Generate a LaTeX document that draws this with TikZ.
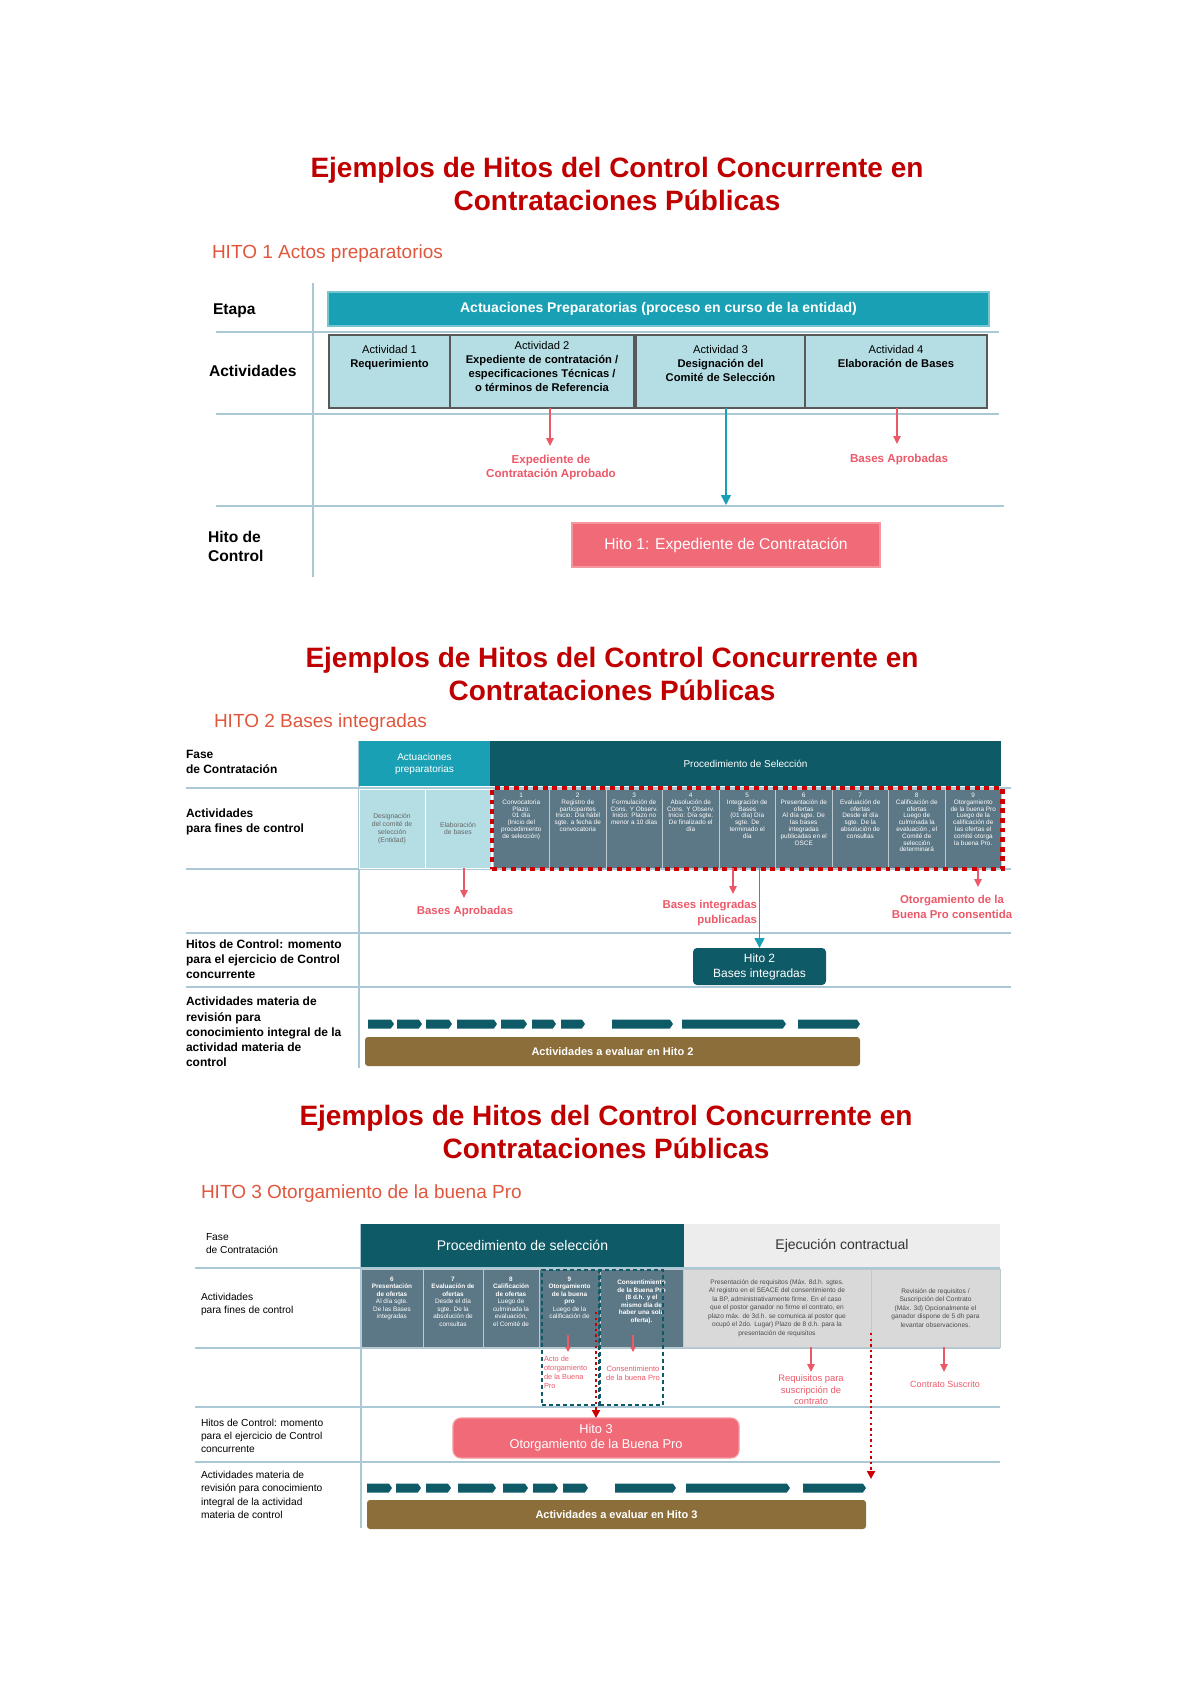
\documentclass[tikz,border=0pt]{standalone}
\usepackage{fontspec}
\setmainfont{Liberation Sans}
\usetikzlibrary{positioning, fit, arrows.meta, shapes.symbols}
\definecolor{titlered}{RGB}{192,0,0}
\definecolor{hitoorange}{RGB}{224,86,60}
\definecolor{tealcol}{RGB}{26,160,180}
\definecolor{darkteal}{RGB}{14,90,102}
\definecolor{cyanbox}{RGB}{180,222,228}
\definecolor{slatecol}{RGB}{92,119,133}
\definecolor{sepcol}{RGB}{170,200,214}
\definecolor{pinkcol}{RGB}{240,106,120}
\definecolor{redcol}{RGB}{236,88,104}
\definecolor{browncol}{RGB}{140,110,58}
\definecolor{grayhead}{RGB}{237,237,237}
\definecolor{graycol}{RGB}{217,217,217}
\definecolor{dotred}{RGB}{204,0,0}
\newcommand{\fsz}[2]{\fontsize{#1}{#2}\selectfont}
\tikzset{
  maintitle/.style={font=\bfseries\fsz{14pt}{16.5pt}, text=titlered, align=center, inner sep=0pt},
  hitolbl/.style={font=\fsz{9.5pt}{11pt}, text=hitoorange, anchor=west, inner sep=0pt},
  rowlbl/.style={font=\bfseries\fsz{7.8pt}{9.5pt}, anchor=west, align=left, inner sep=0pt},
  smlbl/.style={font=\bfseries\fsz{6pt}{7.6pt}, anchor=west, align=left, inner sep=0pt},
  tinylbl/.style={font=\fsz{5.1pt}{6.5pt}, anchor=west, align=left, inner sep=0pt},
  hsep/.style={draw=sepcol, line width=1.3pt},
  tealbar/.style={fill=tealcol, draw=tealcol!60!white, line width=0.6pt, minimum width=330.5pt,
                  minimum height=17pt, inner sep=0pt, text=white, font=\bfseries\fsz{7pt}{8pt}},
  actbox/.style={draw=black!65, fill=cyanbox, line width=0.7pt, minimum height=36.5pt, inner sep=0pt},
  acttxt/.style={font=\fsz{5.6pt}{7pt}, align=center, inner sep=0pt, anchor=north},
  headbox/.style={minimum height=22.5pt, inner sep=0pt, text=white, font=\fsz{5pt}{6pt}, align=center},
  headbox3/.style={minimum height=21.5pt, inner sep=0pt, font=\fsz{7pt}{8pt}, align=center},
  lightcell/.style={fill=cyanbox, draw=white, line width=0.5pt, minimum width=33pt, minimum height=39.5pt,
                    inner sep=0pt, text=black!60, font=\fsz{3.4pt}{3.9pt}, align=center},
  slatecell/.style={fill=slatecol, draw=white!60!slatecol, line width=0.5pt, inner sep=0pt},
  slatetxt/.style={text=white, font=\fsz{3.2pt}{3.4pt}, align=center, inner sep=0pt},
  graycell/.style={fill=graycol, draw=white!60!slatecol, line width=0.5pt, minimum height=39pt, inner sep=0pt,
                   text=black!70, font=\fsz{3.3pt}{4.25pt}, align=center},
  reddots/.style={draw=dotred, line width=2.2pt, dash pattern=on 2.4pt off 2.4pt, inner sep=0.5pt},
  tealdash/.style={draw=darkteal, line width=0.6pt, dash pattern=on 2pt off 1.5pt, inner sep=0pt},
  redarr/.style={-{Triangle[length=4pt, width=3.6pt]}, draw=redcol, line width=1pt},
  smallarr/.style={-{Triangle[length=2.6pt, width=2.6pt]}, draw=redcol, line width=0.7pt},
  tealarr/.style={-{Triangle[length=5pt, width=5pt]}, draw=tealcol, line width=0.7pt},
  dotarr/.style={-{Triangle[length=4pt, width=4pt]}, draw=dotred, line width=1.1pt, dash pattern=on 1.2pt off 1.6pt},
  redlbl/.style={font=\bfseries\fsz{5.8pt}{7pt}, text=redcol, align=center, inner sep=0pt},
  redlbl2/.style={font=\bfseries\fsz{5.7pt}{7.5pt}, text=redcol, align=center, inner sep=0pt},
  redlbl3/.style={font=\fsz{4.7pt}{5.8pt}, text=redcol, align=center, inner sep=0pt},
  redtiny/.style={font=\fsz{3.7pt}{4.6pt}, text=redcol, inner sep=0pt},
  hitobox/.style={fill=pinkcol, draw=pinkcol!70!white, line width=0.6pt, text=white, inner sep=0pt, align=center},
  chev/.style={signal, signal to=east, signal from=nowhere, signal pointer angle=110, fill=darkteal,
               minimum height=4.5pt, inner sep=0pt, anchor=west},
  brownbar/.style={fill=browncol, rounded corners=1.5pt, minimum height=14.5pt, inner sep=0pt,
                   text=white, font=\bfseries\fsz{5.5pt}{6.5pt}},
}

\begin{document}
\begin{tikzpicture}[x=0.5pt, y=-0.5pt, every node/.append style={outer sep=0pt}]
  \useasboundingbox (0,0) rectangle (1200,1696);

  % --- Hito 1: header ---
  \node[maintitle] (tit1) at (617,184) {Ejemplos de Hitos del Control Concurrente en\\Contrataciones Públicas};
  \node[hitolbl] (sub1) at (212,254) {HITO 1 Actos preparatorios};

  % --- Hito 1: grid lines ---
  \draw[hsep] (313,283) -- (313,577);
  \draw[hsep] (216,332) -- (999,332);
  \draw[hsep] (216,414) -- (999,414);
  \draw[hsep] (216,506) -- (1004,506);

  % --- Hito 1: Etapa row ---
  \node[rowlbl] (etapa1) at (213,311) {Etapa};
  \node[tealbar] (bar1) at (658.5,309) {Actuaciones Preparatorias (proceso en curso de la entidad)};

  % --- Hito 1: Actividades row ---
  \node[rowlbl] (activ1) at (209,371) {Actividades};
  \node[actbox, minimum width=60.5pt, anchor=north west] (a1) at (329,335) {};
  \node[actbox, minimum width=92pt, right=0pt of a1] (a2) {};
  \node[actbox, minimum width=84.5pt, right=1pt of a2] (a3) {};
  \node[actbox, minimum width=91pt, right=0pt of a3] (a4) {};
  \node[acttxt, below=5pt of a1.north] (a1t) {Actividad 1\\\textbf{Requerimiento}};
  \node[acttxt, below=3pt of a2.north] (a2t) {Actividad 2\\\textbf{Expediente de contratación /}\\
        \textbf{especificaciones Técnicas /}\\\textbf{o términos de Referencia}};
  \node[acttxt, below=5pt of a3.north] (a3t) {Actividad 3\\\textbf{Designación del}\\\textbf{Comité de Selección}};
  \node[acttxt, below=5pt of a4.north] (a4t) {Actividad 4\\\textbf{Elaboración de Bases}};

  % --- Hito 1: outputs ---
  \coordinate (e1) at (550,446);
  \draw[redarr] (a2.south -| e1) -- (e1);
  \node[redlbl] (l1) at (551,467) {Expediente de\\Contratación Aprobado};
  \coordinate (e2) at (897,444);
  \draw[redarr] (a4.south -| e2) -- (e2);
  \node[redlbl] (l2) at (899,459) {Bases Aprobadas};
  \coordinate (e3) at (726,505);
  \draw[tealarr] (a3.south -| e3) -- (e3);

  % --- Hito 1: Hito de Control row ---
  \node[rowlbl] (hc1) at (208,546) {Hito de\\Control};
  \node[hitobox, minimum width=154pt, minimum height=22pt, font=\fsz{7.8pt}{9pt}] (h1) at (726,545)
        {Hito 1: Expediente de Contratación};

  % --- Hito 2: header ---
  \node[maintitle] (tit2) at (612,674) {Ejemplos de Hitos del Control Concurrente en\\Contrataciones Públicas};
  \node[hitolbl] (sub2) at (214,723) {HITO 2 Bases integradas};

  % --- Hito 2: grid lines ---
  \draw[hsep] (359,741) -- (359,1068);
  \draw[hsep] (186,788) -- (1011,788);
  \draw[hsep] (186,869) -- (1011,869);
  \draw[hsep] (186,933) -- (1011,933);
  \draw[hsep] (186,987) -- (1011,987);

  % --- Hito 2: Fase row ---
  \node[smlbl] (fase2) at (186,762) {Fase\\de Contratación};
  \node[headbox, fill=tealcol, minimum width=65.5pt, anchor=north west] (ap2) at (359,741) {Actuaciones\\preparatorias};
  \node[headbox, fill=darkteal, minimum width=255.5pt, right=0pt of ap2] (ps2) {Procedimiento de Selección};

  % --- Hito 2: Actividades row ---
  \node[smlbl] (act2) at (186,822) {Actividades\\para fines de control};
  \node[lightcell, anchor=north west] (d1) at (359,789) {Designación\\del comité de\\selección\\(Entidad)};
  \node[lightcell, right=0pt of d1] (d2) {Elaboración\\de bases};
  \node[slatecell, minimum width=28.25pt, minimum height=39.5pt, anchor=north west] (b1) at (493,789) {};
  \node[slatecell, minimum width=28.25pt, minimum height=39.5pt, right=0pt of b1] (b2) {};
  \node[slatecell, minimum width=28.25pt, minimum height=39.5pt, right=0pt of b2] (b3) {};
  \node[slatecell, minimum width=28.25pt, minimum height=39.5pt, right=0pt of b3] (b4) {};
  \node[slatecell, minimum width=28.25pt, minimum height=39.5pt, right=0pt of b4] (b5) {};
  \node[slatecell, minimum width=28.25pt, minimum height=39.5pt, right=0pt of b5] (b6) {};
  \node[slatecell, minimum width=28.25pt, minimum height=39.5pt, right=0pt of b6] (b7) {};
  \node[slatecell, minimum width=28.25pt, minimum height=39.5pt, right=0pt of b7] (b8) {};
  \node[slatecell, minimum width=28.25pt, minimum height=39.5pt, right=0pt of b8] (b9) {};
  \node[slatetxt, below=2pt of b1.north] (b1t) {1\\Convocatoria\\Plazo:\\01 día\\(Inicio del\\procedimiento\\de selección)};
  \node[slatetxt, below=2pt of b2.north] (b2t) {2\\Registro de\\participantes\\Inicio: Día hábil\\sgte. a fecha de\\convocatoria};
  \node[slatetxt, below=2pt of b3.north] (b3t) {3\\Formulación de\\Cons. Y Observ.\\Inicio: Plazo no\\menor a 10 días};
  \node[slatetxt, below=2pt of b4.north] (b4t) {4\\Absolución de\\Cons. Y Observ.\\Inicio: Día sgte.\\De finalizado el\\día};
  \node[slatetxt, below=2pt of b5.north] (b5t) {5\\Integración de\\Bases\\(01 día) Día\\sgte. De\\terminado el\\día};
  \node[slatetxt, below=2pt of b6.north] (b6t) {6\\Presentación de\\ofertas\\Al día sgte. De\\las bases\\integradas\\publicadas en el\\OSCE};
  \node[slatetxt, below=2pt of b7.north] (b7t) {7\\Evaluación de\\ofertas\\Desde el día\\sgte. De la\\absolución de\\consultas};
  \node[slatetxt, below=2pt of b8.north] (b8t) {8\\Calificación de\\ofertas\\Luego de\\culminada la\\evaluación , el\\Comité de\\selección\\determinará};
  \node[slatetxt, below=2pt of b9.north] (b9t) {9\\Otorgamiento\\de la buena Pro\\Luego de la\\calificación de\\las ofertas el\\comité otorga\\la buena Pro.};
  \node[reddots, fit=(b1)(b9)] (sel2) {};

  % --- Hito 2: outputs ---
  \coordinate (f1) at (464,898);
  \draw[redarr] (d2.south -| f1) -- (f1);
  \node[redlbl2] (m1) at (465,912) {Bases Aprobadas};
  \coordinate (f2) at (733,894);
  \draw[redarr] (b5.south -| f2) -- (f2);
  \node[redlbl2, align=right, anchor=east] (m2) at (757,913) {Bases integradas\\publicadas};
  \coordinate (f3) at (978,887);
  \draw[redarr] (b9.south -| f3) -- (f3);
  \node[redlbl2] (m3) at (952,907) {Otorgamiento de la\\Buena Pro consentida};

  % --- Hito 2: Hitos de Control row ---
  \node[smlbl] (hc2) at (186,959) {Hitos de Control: momento\\para el ejercicio de Control\\concurrente};
  \node[fill=darkteal, rounded corners=2pt, minimum width=66.5pt, minimum height=18.5pt, inner sep=0pt,
        text=white, font=\fsz{6pt}{7.5pt}, align=center] (h2) at (759.5,966.5) {Hito 2\\Bases integradas};
  \draw[tealarr] (b5.south -| h2.north) -- (h2.north);

  % --- Hito 2: Actividades materia de revision ---
  \node[smlbl] (rev2) at (186,1032) {Actividades materia de\\revisión para\\conocimiento integral de la\\actividad materia de\\control};
  \node[chev, minimum width=13pt] (k1) at (368,1024) {};
  \node[chev, minimum width=12.5pt, right=1.5pt of k1] (k2) {};
  \node[chev, minimum width=13pt, right=2pt of k2] (k3) {};
  \node[chev, minimum width=20pt, right=2.5pt of k3] (k4) {};
  \node[chev, minimum width=13pt, right=2pt of k4] (k5) {};
  \node[chev, minimum width=12pt, right=2.5pt of k5] (k6) {};
  \node[chev, minimum width=12pt, right=2.5pt of k6] (k7) {};
  \node[chev, minimum width=30.5pt, right=13.5pt of k7] (k8) {};
  \node[chev, minimum width=52pt, right=4.5pt of k8] (k9) {};
  \node[chev, minimum width=31pt, right=6pt of k9] (k10) {};
  \node[brownbar, minimum width=247.5pt] (ev2) at (612.5,1051.5) {Actividades a evaluar en Hito 2};

  % --- Hito 3: header ---
  \node[maintitle] (tit3) at (606,1132) {Ejemplos de Hitos del Control Concurrente en\\Contrataciones Públicas};
  \node[hitolbl] (sub3) at (201,1194) {HITO 3 Otorgamiento de la buena Pro};

  % --- Hito 3: grid lines ---
  \draw[hsep] (361,1224) -- (361,1528);
  \draw[hsep] (195,1268) -- (1000,1268);
  \draw[hsep] (195,1348) -- (1000,1348);
  \draw[hsep] (195,1407) -- (1000,1407);
  \draw[hsep] (195,1462) -- (1000,1462);

  % --- Hito 3: Fase row ---
  \node[tinylbl] (fase3) at (206,1244) {Fase\\de Contratación};
  \node[headbox3, fill=darkteal, text=white, minimum width=161.5pt, anchor=north west] (ps3) at (361,1224) {Procedimiento de selección};
  \node[headbox3, fill=grayhead, text=black!80, minimum width=158pt, right=0pt of ps3] (ej3) {Ejecución contractual};

  % --- Hito 3: Actividades row ---
  \node[tinylbl] (act3) at (201,1304) {Actividades\\para fines de control};
  \node[slatecell, minimum width=31pt, minimum height=39pt, anchor=north west] (c6) at (361,1269) {};
  \node[slatecell, minimum width=30pt, minimum height=39pt, right=0pt of c6] (c7) {};
  \node[slatecell, minimum width=28pt, minimum height=39pt, right=0pt of c7] (c8) {};
  \node[slatecell, minimum width=30.5pt, minimum height=39pt, right=0pt of c8] (c9) {};
  \node[slatecell, minimum width=41.5pt, minimum height=39pt, right=0pt of c9] (cc) {};
  \node[slatetxt, font=\fsz{3.2pt}{3.75pt}, below=4pt of c6.north] (c6t) {\textbf{6}\\\textbf{Presentación}\\\textbf{de ofertas}\\Al día sgte.\\De las Bases\\integradas};
  \node[slatetxt, font=\fsz{3.2pt}{3.75pt}, below=4pt of c7.north] (c7t) {\textbf{7}\\\textbf{Evaluación de}\\\textbf{ofertas}\\Desde el día\\sgte. De la\\absolución de\\consultas};
  \node[slatetxt, font=\fsz{3.2pt}{3.75pt}, below=4pt of c8.north] (c8t) {\textbf{8}\\\textbf{Calificación}\\\textbf{de ofertas}\\Luego de\\culminada la\\evaluación,\\el Comité de};
  \node[slatetxt, font=\fsz{3.2pt}{3.75pt}, below=4pt of c9.north] (c9t) {\textbf{9}\\\textbf{Otorgamiento}\\\textbf{de la buena}\\\textbf{pro}\\Luego de la\\calificación de};
  \node[slatetxt, font=\fsz{3.2pt}{3.75pt}, below=5.5pt of cc.north] (cct) {\textbf{Consentimiento}\\\textbf{de la Buena Pro}\\\textbf{(8 d.h. y el}\\\textbf{mismo día de}\\\textbf{haber una sola}\\\textbf{oferta).}};
  \node[graycell, minimum width=94pt, right=0pt of cc] (r1) {Presentación de requisitos (Máx. 8d.h. sgtes.\\
        Al registro en el SEACE del consentimiento de\\la BP, administrativamente firme. En el caso\\
        que el postor ganador no firme el contrato, en\\plazo máx. de 3d.h. se comunica al postor que\\
        ocupó el 2do. Lugar) Plazo de 8 d.h. para la\\presentación de requisitos};
  \node[graycell, minimum width=64.5pt, right=0pt of r1] (r2) {Revisión de requisitos /\\Suscripción del Contrato\\
        (Máx. 3d) Opcionalmente el\\ganador dispone de 5 dh para\\levantar observaciones.};

  % --- Hito 3: outputs ---
  \node[tealdash, minimum width=28.5pt, minimum height=67.5pt] (g1) at (570.5,1337.5) {};
  \node[tealdash, minimum width=31.5pt, minimum height=67.5pt] (g2) at (631.5,1337.5) {};
  \coordinate (p1s) at (568,1335);
  \coordinate (p1) at (568,1352);
  \draw[smallarr] (p1s) -- (p1);
  \node[redtiny, align=left, anchor=north west] (q1) at (544,1356) {Acto de\\otorgamiento\\de la Buena\\Pro};
  \coordinate (p2s) at (633,1335);
  \coordinate (p2) at (633,1352);
  \draw[smallarr] (p2s) -- (p2);
  \node[redtiny, align=center, font=\fsz{3.8pt}{4.6pt}] (q2) at (633,1373) {Consentimiento\\de la buena Pro};
  \coordinate (v1) at (596,1312);
  \coordinate (p3) at (811,1372);
  \draw[redarr, line width=1.3pt] (r1.south -| p3) -- (p3);
  \node[redlbl3] (q3) at (811,1390) {Requisitos para\\suscripción de\\contrato};
  \coordinate (p4) at (944,1372);
  \draw[redarr, line width=1.3pt] (r2.south -| p4) -- (p4);
  \node[redlbl3, font=\fsz{4.5pt}{5.5pt}] (q4) at (945,1384) {Contrato Suscrito};
  \coordinate (v2) at (871,1333);
  \coordinate (v3) at (871,1479);
  \draw[dotarr] (v2) -- (v3);

  % --- Hito 3: Hitos de Control row ---
  \node[tinylbl] (hc3) at (201,1436) {Hitos de Control: momento\\para el ejercicio de Control\\concurrente};
  \node[hitobox, rounded corners=4pt, minimum width=143pt, minimum height=20pt, font=\fsz{6.4pt}{7.6pt}] (h3)
        at (596,1438) {Hito 3\\Otorgamiento de la Buena Pro};
  \draw[dotarr] (v1) -- (h3.north -| v1);

  % --- Hito 3: Actividades materia de revision ---
  \node[tinylbl, font=\fsz{5.1pt}{6.7pt}] (rev3) at (201,1495) {Actividades materia de\\revisión para conocimiento\\integral de la actividad\\materia de control};
  \node[chev, minimum width=12.5pt] (n1) at (367,1488) {};
  \node[chev, minimum width=12.5pt, right=2pt of n1] (n2) {};
  \node[chev, minimum width=12.5pt, right=2.5pt of n2] (n3) {};
  \node[chev, minimum width=19pt, right=3.5pt of n3] (n4) {};
  \node[chev, minimum width=12.5pt, right=3.5pt of n4] (n5) {};
  \node[chev, minimum width=12.5pt, right=2.5pt of n5] (n6) {};
  \node[chev, minimum width=12.5pt, right=2.5pt of n6] (n7) {};
  \node[chev, minimum width=30.5pt, right=13.5pt of n7] (n8) {};
  \node[chev, minimum width=52pt, right=5pt of n8] (n9) {};
  \node[chev, minimum width=31.5pt, right=6.5pt of n9] (n10) {};
  \node[brownbar, minimum width=249.5pt] (ev3) at (616.5,1514.5) {Actividades a evaluar en Hito 3};
\end{tikzpicture}
\end{document}
